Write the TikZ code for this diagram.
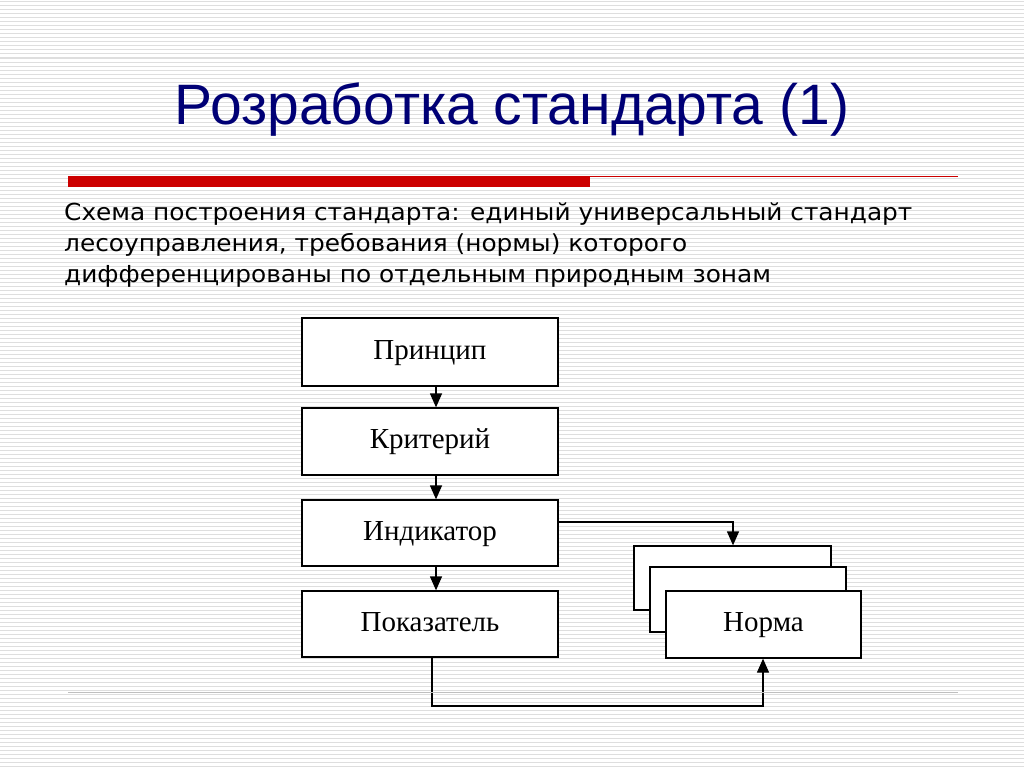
\documentclass[tikz,border=0pt]{standalone}
\usepackage{fontspec}
\setmainfont{Liberation Sans}
\newfontfamily\txtfont[FakeStretch=1.06]{DejaVu Sans}
\newfontfamily\boxfont{Liberation Serif}
\usetikzlibrary{arrows.meta}
\begin{document}
\begin{tikzpicture}[x=1pt,y=-1pt,
  bx/.style={draw,line width=1.3pt,fill=white,font=\boxfont\fontsize{29}{31}\selectfont,text height=20pt,text depth=6pt},
  ar/.style={line width=1.3pt,-{Triangle[length=14pt,width=12pt]}}]
\useasboundingbox (0,0) rectangle (1024,768);
\fill[white] (0,0) rectangle (1024,768);
\foreach \y in {2,6,...,766} \draw[black!13,line width=1pt] (0,\y) -- (1024,\y);
\node[text=blue!40!black!90!blue,font=\fontsize{57}{62}\selectfont,anchor=base] (title) at (512,124) {Розработка стандарта (1)};
\fill[red!80!black] (68,176) rectangle (590,187);
\draw[red!80!black,line width=0.8pt] (590,176) -- (958,176);
\node[anchor=north west,align=left,font=\txtfont\fontsize{23.4}{31}\selectfont,inner sep=0] (txt) at (64,203)
 {Схема построения стандарта: единый универсальный стандарт\\лесоуправления, требования (нормы) которого\\дифференцированы по отдельным природным зонам};
\node[bx,minimum width=256pt,minimum height=68pt] (p) at (430,352) {Принцип};
\node[bx,minimum width=256pt,minimum height=67pt] (k) at (430,441.5) {Критерий};
\node[bx,minimum width=256pt,minimum height=66pt] (i) at (430,533) {Индикатор};
\node[bx,minimum width=256pt,minimum height=66pt] (s) at (430,624) {Показатель};
\node[bx,minimum width=197pt,minimum height=64pt] (n1) at (732.5,578) {};
\node[bx,minimum width=196pt,minimum height=65pt] (n2) at (748,599.5) {};
\node[bx,minimum width=195pt,minimum height=67pt] (n3) at (763.5,624.5) {Норма};
\draw[ar] (p.south -| 436,0) -- (k.north -| 436,0);
\draw[ar] (k.south -| 436,0) -- (i.north -| 436,0);
\draw[ar] (i.south -| 436,0) -- (s.north -| 436,0);
\draw[ar] (i.east |- 0,522) -| (n1.north -| 733,0);
\draw[ar] (s.south -| 432,0) |- (763,706) -- (n3.south -| 763,0);
\draw[black!25,line width=0.8pt] (68,692) -- (958,692);
\end{tikzpicture}
\end{document}
